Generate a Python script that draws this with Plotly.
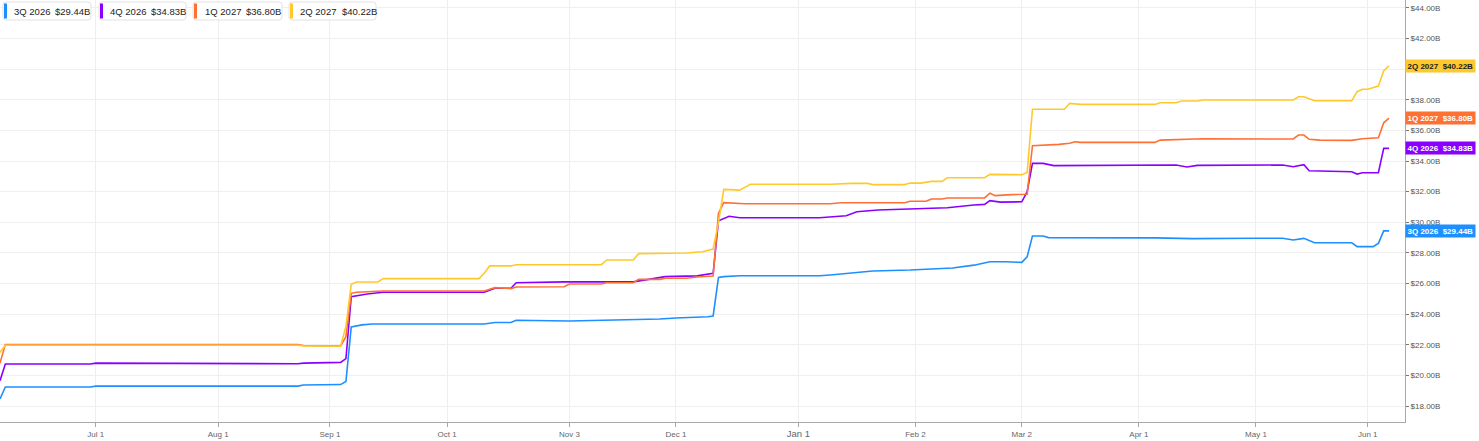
import plotly.graph_objects as go

# ---------------- data ----------------
series_names = ["3Q 2026", "4Q 2026", "1Q 2027", "2Q 2027"]
last_labels = ["$29.44B", "$34.83B", "$36.80B", "$40.22B"]
series_colors = ["#1E8FFF", "#8A00FF", "#FF7033", "#FFC92E"]

d_3q26 = ["2025-06-05", "2025-06-06", "2025-06-30", "2025-07-01", "2025-08-22", "2025-08-25", "2025-09-03",
          "2025-09-04", "2025-09-05", "2025-09-09", "2025-09-11", "2025-10-10", "2025-10-14", "2025-10-17",
          "2025-10-20", "2025-11-03", "2025-11-26", "2025-12-01", "2025-12-09", "2025-12-10", "2025-12-11",
          "2025-12-12", "2025-12-17", "2026-01-07", "2026-01-09", "2026-01-15", "2026-01-21", "2026-01-30",
          "2026-02-06", "2026-02-11", "2026-02-17", "2026-02-20", "2026-02-25", "2026-03-02", "2026-03-03",
          "2026-03-04", "2026-03-06", "2026-03-09", "2026-04-06", "2026-04-15", "2026-05-01", "2026-05-08",
          "2026-05-12", "2026-05-14", "2026-05-18", "2026-05-27", "2026-05-28", "2026-06-02", "2026-06-03",
          "2026-06-04", "2026-06-05"]
v_3q26 = [18.46, 19.24, 19.24, 19.30, 19.30, 19.37, 19.40,
          19.60, 23.16, 23.30, 23.36, 23.36, 23.45, 23.45,
          23.60, 23.55, 23.68, 23.75, 23.83, 23.88, 26.40,
          26.45, 26.51, 26.51, 26.56, 26.71, 26.82, 26.88,
          26.97, 27.01, 27.20, 27.42, 27.42, 27.38, 27.75,
          29.10, 29.10, 29.00, 28.98, 28.93, 28.96, 28.96,
          28.84, 28.95, 28.66, 28.66, 28.41, 28.41, 28.62,
          29.44, 29.44]

d_4q26 = ["2025-06-05", "2025-06-06", "2025-06-30", "2025-07-01", "2025-08-22", "2025-08-25", "2025-09-03",
          "2025-09-04", "2025-09-05", "2025-09-10", "2025-09-15", "2025-10-10", "2025-10-14", "2025-10-17",
          "2025-10-20", "2025-10-31", "2025-11-19", "2025-11-27", "2025-12-05", "2025-12-10", "2025-12-11",
          "2025-12-15", "2025-12-17", "2026-01-07", "2026-01-14", "2026-01-16", "2026-01-22", "2026-01-29",
          "2026-02-10", "2026-02-17", "2026-02-19", "2026-02-20", "2026-02-24", "2026-03-02", "2026-03-03",
          "2026-03-04", "2026-03-06", "2026-03-10", "2026-04-10", "2026-04-14", "2026-04-16", "2026-05-08",
          "2026-05-12", "2026-05-14", "2026-05-15", "2026-05-27", "2026-05-28", "2026-05-29", "2026-06-03",
          "2026-06-04", "2026-06-05"]
v_4q26 = [19.65, 20.74, 20.74, 20.80, 20.76, 20.80, 20.85,
          21.10, 25.14, 25.32, 25.43, 25.43, 25.69, 25.69,
          26.05, 26.11, 26.11, 26.45, 26.50, 26.67, 30.10,
          30.39, 30.30, 30.30, 30.43, 30.69, 30.80, 30.87,
          30.95, 31.13, 31.17, 31.41, 31.32, 31.34, 32.00,
          33.85, 33.85, 33.70, 33.74, 33.61, 33.72, 33.74,
          33.63, 33.76, 33.37, 33.30, 33.15, 33.24, 33.24,
          34.83, 34.83]

d_1q27 = ["2025-06-05", "2025-06-06", "2025-08-22", "2025-08-25", "2025-09-03", "2025-09-04", "2025-09-05",
          "2025-09-08", "2025-09-15", "2025-10-10", "2025-10-14", "2025-10-17", "2025-10-20", "2025-10-31",
          "2025-11-03", "2025-11-11", "2025-11-12", "2025-11-19", "2025-11-20", "2025-11-26", "2025-11-27",
          "2025-12-03", "2025-12-05", "2025-12-10", "2025-12-11", "2025-12-12", "2025-12-18", "2026-01-09",
          "2026-01-13", "2026-01-29", "2026-01-30", "2026-02-04", "2026-02-05", "2026-02-09", "2026-02-10",
          "2026-02-19", "2026-02-20", "2026-02-23", "2026-02-26", "2026-03-03", "2026-03-04", "2026-03-10",
          "2026-03-11", "2026-03-13", "2026-03-16", "2026-03-17", "2026-04-06", "2026-04-07", "2026-04-10",
          "2026-04-17", "2026-05-12", "2026-05-13", "2026-05-14", "2026-05-15", "2026-05-19", "2026-05-27",
          "2026-05-29", "2026-06-03", "2026-06-04", "2026-06-05"]
v_1q27 = [20.80, 22.02, 22.02, 21.95, 21.92, 22.53, 25.36,
          25.43, 25.51, 25.51, 25.73, 25.67, 25.77, 25.79,
          25.97, 25.97, 26.05, 26.05, 26.27, 26.27, 26.34,
          26.34, 26.43, 26.49, 30.60, 31.28, 31.21, 31.21,
          31.28, 31.28, 31.37, 31.37, 31.52, 31.52, 31.59,
          31.59, 31.90, 31.74, 31.81, 31.83, 35.00, 35.05,
          35.09, 35.16, 35.26, 35.22, 35.22, 35.37, 35.42,
          35.46, 35.44, 35.70, 35.70, 35.42, 35.37, 35.35,
          35.46, 35.52, 36.50, 36.80]

d_2q27 = ["2025-06-05", "2025-06-06", "2025-08-22", "2025-08-25", "2025-09-03", "2025-09-04", "2025-09-05",
          "2025-09-08", "2025-09-12", "2025-09-15", "2025-10-09", "2025-10-10", "2025-10-13", "2025-10-17",
          "2025-10-20", "2025-11-11", "2025-11-12", "2025-11-19", "2025-11-20", "2025-12-03", "2025-12-08",
          "2025-12-10", "2025-12-11", "2025-12-12", "2025-12-17", "2025-12-19", "2026-01-09", "2026-01-13",
          "2026-01-15", "2026-01-20", "2026-01-21", "2026-01-29", "2026-01-30", "2026-02-03", "2026-02-05",
          "2026-02-09", "2026-02-10", "2026-02-19", "2026-02-20", "2026-03-02", "2026-03-03", "2026-03-04",
          "2026-03-12", "2026-03-13", "2026-03-17", "2026-04-06", "2026-04-07", "2026-04-10", "2026-04-13",
          "2026-04-16", "2026-04-17", "2026-05-12", "2026-05-13", "2026-05-14", "2026-05-18", "2026-05-27",
          "2026-05-28", "2026-05-29", "2026-06-01", "2026-06-03", "2026-06-04", "2026-06-05"]
v_2q27 = [21.50, 21.97, 21.97, 21.93, 21.90, 23.20, 25.95,
          26.10, 26.10, 26.32, 26.32, 26.67, 27.15, 27.15,
          27.23, 27.23, 27.54, 27.54, 27.95, 27.99, 28.08,
          28.25, 30.00, 32.15, 32.10, 32.48, 32.48, 32.52,
          32.54, 32.54, 32.46, 32.46, 32.56, 32.56, 32.67,
          32.67, 32.91, 32.91, 33.13, 33.11, 33.26, 37.38,
          37.38, 37.77, 37.70, 37.70, 37.81, 37.81, 37.92,
          37.92, 37.99, 37.99, 38.20, 38.20, 37.94, 37.94,
          38.53, 38.69, 38.69, 38.90, 39.90, 40.22]

x_tick_dates = ["2025-07-01", "2025-08-01", "2025-09-01", "2025-10-01", "2025-11-03", "2025-12-01",
                "2026-01-01", "2026-02-02", "2026-03-02", "2026-04-01", "2026-05-01", "2026-06-01"]
x_tick_text = ["Jul 1", "Aug 1", "Sep 1", "Oct 1", "Nov 3", "Dec 1",
               '<span style="font-size:9.5px">Jan 1</span>', "Feb 2", "Mar 2", "Apr 1", "May 1", "Jun 1"]
y_tick_vals = [18, 20, 22, 24, 26, 28, 30, 32, 34, 36, 38, 40, 42, 44]
# the $40.00B label sits under the 2Q 2027 end-label in the reference (hidden)
y_tick_text = ["" if v == 40 else f"${v:.2f}B" for v in y_tick_vals]

all_dates = [d_3q26, d_4q26, d_1q27, d_2q27]
all_vals = [v_3q26, v_4q26, v_1q27, v_2q27]

# ---------------- layout constants ----------------
FIG_W, FIG_H = 1479, 441
M_L, M_R, M_T, M_B = 0, 74, 0, 19
PW, PH = FIG_W - M_L - M_R, FIG_H - M_T - M_B
FONT = "Liberation Sans, Arial, sans-serif"


def fx(p):
    return p / PW


def fy(p):
    return 1 - p / PH


fig = go.Figure()
for name, d, v, c in zip(series_names, all_dates, all_vals, series_colors):
    fig.add_trace(go.Scatter(x=d, y=v, mode="lines", name=name,
                             line=dict(color=c, width=1.6), hoverinfo="x+y+name"))

shapes = []
annotations = []

# legend boxes (top-left)
boxes = [(3, 91, 12, 53), (99, 186, 108, 149), (193, 282, 203, 244), (289, 376, 298, 340)]
y0b, y1b = 2, 20
r = 3
for (bx0, bx1, tx, vx), name, lab, c in zip(boxes, series_names, last_labels, series_colors):
    X0, X1 = fx(bx0), fx(bx1)
    Y0, Y1 = fy(y1b), fy(y0b)
    rx, ry = r / PW, r / PH
    path = (f"M {X0+rx},{Y1} L {X1-rx},{Y1} Q {X1},{Y1} {X1},{Y1-ry} "
            f"L {X1},{Y0+ry} Q {X1},{Y0} {X1-rx},{Y0} L {X0+rx},{Y0} "
            f"Q {X0},{Y0} {X0},{Y0+ry} L {X0},{Y1-ry} Q {X0},{Y1} {X0+rx},{Y1} Z")
    shapes.append(dict(type="path", xref="paper", yref="paper", path=path,
                       line=dict(color="#e2e2e2", width=1), fillcolor="white", layer="above"))
    shapes.append(dict(type="line", xref="paper", yref="paper",
                       x0=fx(bx0 + 2.5), x1=fx(bx0 + 2.5), y0=fy(y1b - 1.5), y1=fy(y0b + 1.5),
                       line=dict(color=c, width=3), layer="above"))
    annotations.append(dict(xref="paper", yref="paper", x=fx(tx), y=fy(11.5), xanchor="left",
                            yanchor="middle", text=name, showarrow=False,
                            font=dict(family=FONT, size=9.5, color="#222")))
    annotations.append(dict(xref="paper", yref="paper", x=fx(vx), y=fy(11.5), xanchor="left",
                            yanchor="middle", text=lab, showarrow=False,
                            font=dict(family=FONT, size=9.5, color="#222")))

# right side last-value labels
for name, lab, v, c in zip(series_names, last_labels, all_vals, series_colors):
    txt_color = "#222" if c == "#FFC92E" else "white"
    annotations.append(dict(xref="paper", yref="y", x=1, y=v[-1], xanchor="left", yanchor="middle",
                            text=f"<b>{name}&nbsp;&nbsp;{lab}</b>", showarrow=False,
                            bgcolor=c, borderpad=1.5, xshift=0,
                            font=dict(family=FONT, size=8, color=txt_color)))

fig.update_layout(
    width=FIG_W, height=FIG_H,
    margin=dict(l=M_L, r=M_R, t=M_T, b=M_B),
    plot_bgcolor="white", paper_bgcolor="white",
    showlegend=False,
    font=dict(family=FONT),
    shapes=shapes, annotations=annotations,
    xaxis=dict(
        type="date",
        range=["2025-06-05", "2026-06-10"],
        rangebreaks=[dict(bounds=["sat", "mon"])],
        tickmode="array", tickvals=x_tick_dates, ticktext=x_tick_text,
        tickfont=dict(family=FONT, size=8, color="#666"),
        showgrid=True, gridcolor="#efefef", gridwidth=1,
        showline=True, linecolor="#a8a8a8", linewidth=1,
        ticks="outside", ticklen=4, tickcolor="#a8a8a8",
        zeroline=False, fixedrange=True,
    ),
    yaxis=dict(
        side="right",
        range=[16.955, 44.52],
        tickmode="array", tickvals=y_tick_vals, ticktext=y_tick_text,
        tickfont=dict(family=FONT, size=8, color="#555"),
        showgrid=True, gridcolor="#efefef", gridwidth=1,
        showline=True, linecolor="#a8a8a8", linewidth=1,
        ticks="outside", ticklen=3, tickcolor="#777",
        zeroline=False, fixedrange=True,
    ),
)

fig.write_html("out.html")
